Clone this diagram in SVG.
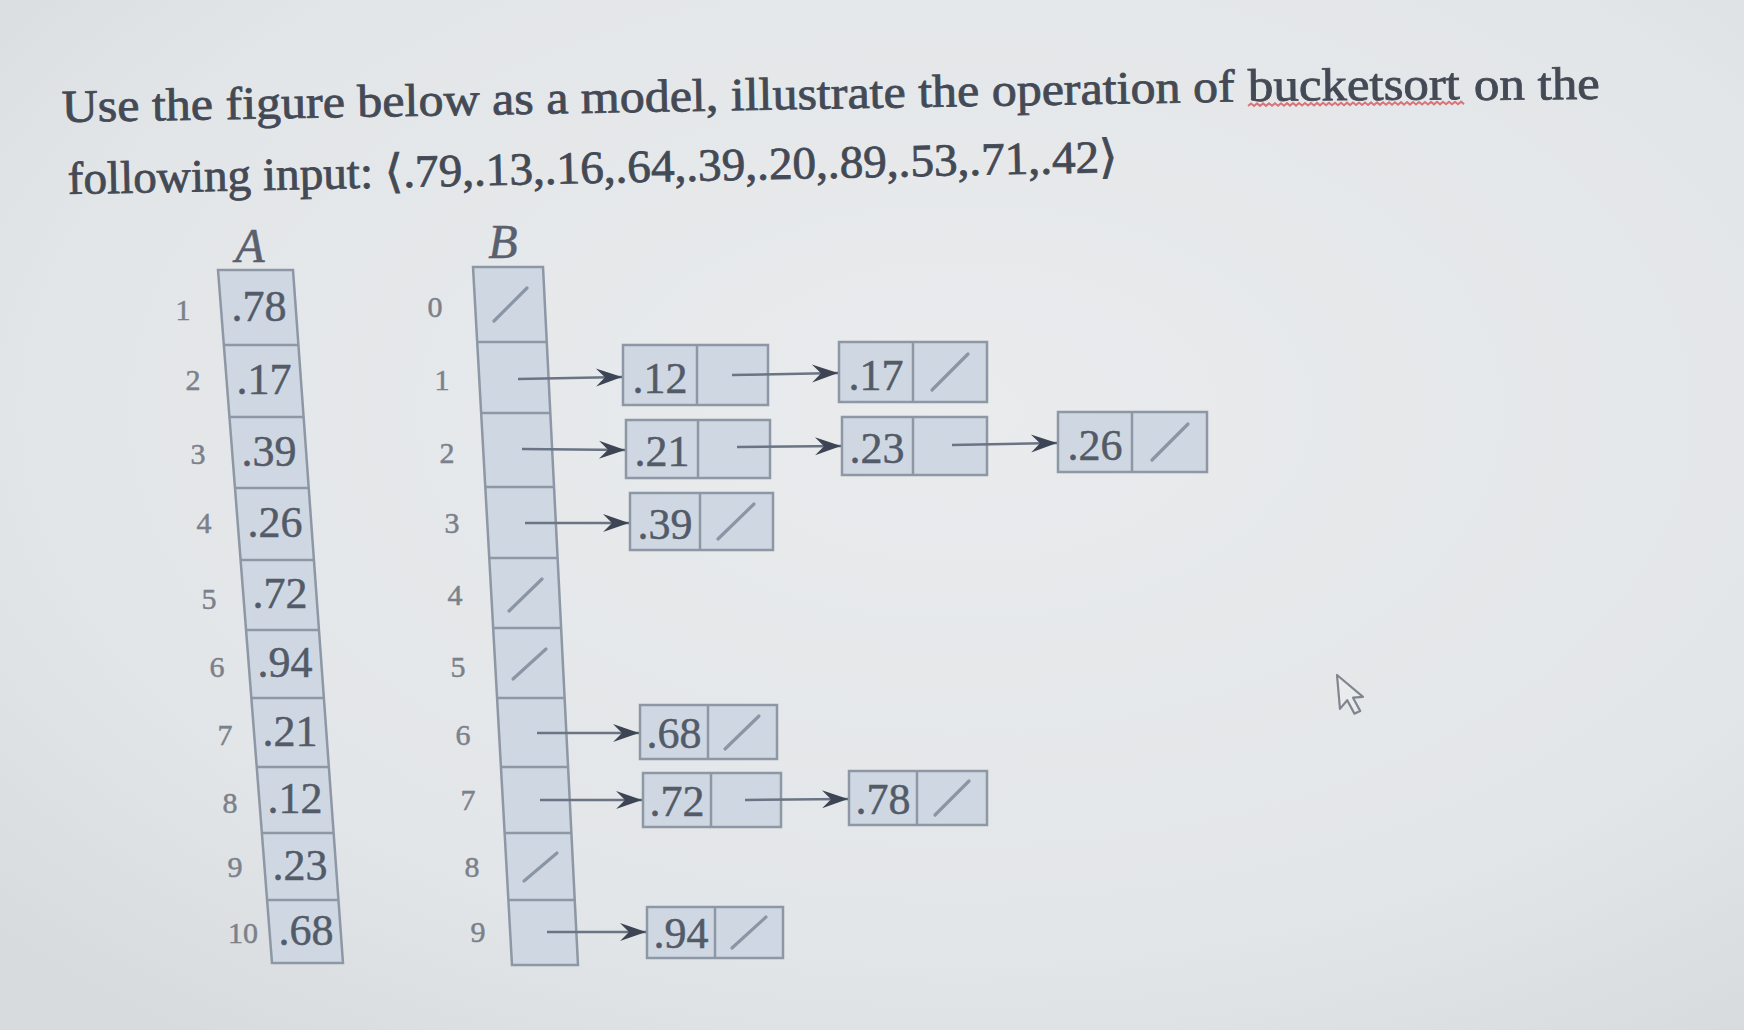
<svg xmlns="http://www.w3.org/2000/svg" width="1744" height="1030" viewBox="0 0 1744 1030">
<defs>
<radialGradient id="bg" cx="0.55" cy="0.4" r="0.75">
<stop offset="0" stop-color="#e9ebed"/>
<stop offset="0.7" stop-color="#e3e6e8"/>
<stop offset="1" stop-color="#d8dbde"/>
</radialGradient>
<marker id="ah" markerWidth="28" markerHeight="20" viewBox="-28 -10 28 20" refX="0" refY="0" orient="auto" markerUnits="userSpaceOnUse">
<path d="M0,0 L-26,-9 L-17,0 L-26,9 Z" fill="#3d4555"/>
</marker>
<style>
.t{font-family:"Liberation Serif","DejaVu Serif",serif;font-size:46px;fill:#444a55;stroke:#444a55;stroke-width:0.8}
.v{font-family:"Liberation Serif","DejaVu Serif",serif;font-size:44px;fill:#535b69;stroke:#535b69;stroke-width:0.5;text-anchor:middle}
.i{font-family:"Liberation Serif","DejaVu Serif",serif;font-size:30px;fill:#7b818b;stroke:#7b818b;stroke-width:0.5;text-anchor:middle}
.lab{font-family:"Liberation Serif","DejaVu Serif",serif;font-size:48px;font-style:italic;fill:#59606e;stroke:#59606e;stroke-width:0.5;text-anchor:middle}
.cell{fill:#cfd8e2;stroke:#8d97a5;stroke-width:2.5}
.sep{stroke:#8d97a5;stroke-width:2.5}
.nil{stroke:#8a95a6;stroke-width:3.2;stroke-linecap:round}
.ptr{stroke:#6a7484;stroke-width:2.5;fill:none;marker-end:url(#ah)}
.sq{stroke:#d9737a;stroke-width:2;fill:none}
</style>
</defs>
<rect width="1744" height="1030" fill="url(#bg)"/>

<g id="title">
<text class="t" x="62" y="122" textLength="1173" lengthAdjust="spacingAndGlyphs" transform="rotate(-1 62 122)">Use the figure below as a model, illustrate the operation of</text>
<g transform="rotate(-0.5 1248 101)">
<text class="t" x="1248" y="101" textLength="212" lengthAdjust="spacingAndGlyphs">bucketsort</text>
<path class="sq" d="M1248,106 l3,-2.5 3,2.5 3,-2.5 3,2.5 3,-2.5 3,2.5 3,-2.5 3,2.5 3,-2.5 3,2.5 3,-2.5 3,2.5 3,-2.5 3,2.5 3,-2.5 3,2.5 3,-2.5 3,2.5 3,-2.5 3,2.5 3,-2.5 3,2.5 3,-2.5 3,2.5 3,-2.5 3,2.5 3,-2.5 3,2.5 3,-2.5 3,2.5 3,-2.5 3,2.5 3,-2.5 3,2.5 3,-2.5 3,2.5 3,-2.5 3,2.5 3,-2.5 3,2.5 3,-2.5 3,2.5 3,-2.5 3,2.5 3,-2.5 3,2.5 3,-2.5 3,2.5 3,-2.5 3,2.5 3,-2.5 3,2.5 3,-2.5 3,2.5 3,-2.5 3,2.5 3,-2.5 3,2.5 3,-2.5 3,2.5 3,-2.5 3,2.5 3,-2.5 3,2.5 3,-2.5 3,2.5 3,-2.5 3,2.5 3,-2.5 3,2.5 3,-2.5 3,2.5"/>
</g>
<text class="t" x="1474" y="100" textLength="126" lengthAdjust="spacingAndGlyphs" transform="rotate(-0.5 1474 100)">on the</text>
<text class="t" x="68" y="194" textLength="1050" lengthAdjust="spacingAndGlyphs" transform="rotate(-1.2 68 194)">following input: ⟨.79,.13,.16,.64,.39,.20,.89,.53,.71,.42⟩</text>
</g>

<g id="arrayA">
<text class="lab" x="250" y="262">A</text>
<polygon class="cell" points="218,270 293,270 343,963 272,963"/>
<line class="sep" x1="223.8" y1="345" x2="298.4" y2="345"/>
<line class="sep" x1="229.5" y1="417" x2="303.6" y2="417"/>
<line class="sep" x1="235.0" y1="488" x2="308.7" y2="488"/>
<line class="sep" x1="240.6" y1="560" x2="313.9" y2="560"/>
<line class="sep" x1="246.0" y1="630" x2="319.0" y2="630"/>
<line class="sep" x1="251.3" y1="698" x2="323.9" y2="698"/>
<line class="sep" x1="256.7" y1="767" x2="328.9" y2="767"/>
<line class="sep" x1="261.9" y1="833" x2="333.6" y2="833"/>
<line class="sep" x1="267.1" y1="900" x2="338.5" y2="900"/>
<text class="v" x="259" y="321">.78</text>
<text class="v" x="264" y="394">.17</text>
<text class="v" x="269" y="466">.39</text>
<text class="v" x="275" y="537">.26</text>
<text class="v" x="280" y="608">.72</text>
<text class="v" x="285" y="677">.94</text>
<text class="v" x="290" y="746">.21</text>
<text class="v" x="295" y="813">.12</text>
<text class="v" x="300" y="880">.23</text>
<text class="v" x="306" y="945">.68</text>
<text class="i" x="183" y="320">1</text>
<text class="i" x="193" y="390">2</text>
<text class="i" x="198" y="464">3</text>
<text class="i" x="204" y="533">4</text>
<text class="i" x="209" y="609">5</text>
<text class="i" x="217" y="677">6</text>
<text class="i" x="225" y="745">7</text>
<text class="i" x="230" y="813">8</text>
<text class="i" x="235" y="877">9</text>
<text class="i" x="243" y="943">10</text>
</g>

<g id="arrayB">
<text class="lab" x="503" y="258">B</text>
<polygon class="cell" points="473,267 543,267 578,965 512,965"/>
<line class="sep" x1="477.2" y1="342" x2="546.8" y2="342"/>
<line class="sep" x1="481.2" y1="413" x2="550.3" y2="413"/>
<line class="sep" x1="485.3" y1="487" x2="554.0" y2="487"/>
<line class="sep" x1="489.3" y1="558" x2="557.6" y2="558"/>
<line class="sep" x1="493.2" y1="628" x2="561.1" y2="628"/>
<line class="sep" x1="497.1" y1="698" x2="564.6" y2="698"/>
<line class="sep" x1="501.0" y1="767" x2="568.1" y2="767"/>
<line class="sep" x1="504.6" y1="833" x2="571.4" y2="833"/>
<line class="sep" x1="508.4" y1="900" x2="574.7" y2="900"/>
<line class="nil" x1="494" y1="321" x2="527" y2="288"/>
<line class="nil" x1="509" y1="611" x2="542" y2="579"/>
<line class="nil" x1="513" y1="679" x2="546" y2="649"/>
<line class="nil" x1="524" y1="881" x2="557" y2="853"/>
<text class="i" x="435" y="317">0</text>
<text class="i" x="442" y="390">1</text>
<text class="i" x="447" y="463">2</text>
<text class="i" x="452" y="533">3</text>
<text class="i" x="455" y="605">4</text>
<text class="i" x="458" y="677">5</text>
<text class="i" x="463" y="745">6</text>
<text class="i" x="468" y="810">7</text>
<text class="i" x="472" y="877">8</text>
<text class="i" x="478" y="942">9</text>
</g>

<g id="n12"><rect class="cell" x="623" y="345" width="145" height="60"/><line class="sep" x1="697" y1="345" x2="697" y2="405"/><text class="v" x="660" y="393">.12</text></g>
<g id="n17"><rect class="cell" x="839" y="342" width="148" height="60"/><line class="sep" x1="913" y1="342" x2="913" y2="402"/><text class="v" x="876" y="390">.17</text><line class="nil" x1="932" y1="390" x2="968" y2="354"/></g>
<g id="n21"><rect class="cell" x="626" y="420" width="144" height="58"/><line class="sep" x1="698" y1="420" x2="698" y2="478"/><text class="v" x="662" y="466">.21</text></g>
<g id="n23"><rect class="cell" x="842" y="417" width="145" height="58"/><line class="sep" x1="913" y1="417" x2="913" y2="475"/><text class="v" x="877" y="463">.23</text></g>
<g id="n26"><rect class="cell" x="1058" y="412" width="149" height="60"/><line class="sep" x1="1132" y1="412" x2="1132" y2="472"/><text class="v" x="1095" y="460">.26</text><line class="nil" x1="1152" y1="460" x2="1188" y2="424"/></g>
<g id="n39"><rect class="cell" x="630" y="493" width="143" height="57"/><line class="sep" x1="700" y1="493" x2="700" y2="550"/><text class="v" x="665" y="539">.39</text><line class="nil" x1="718" y1="539" x2="754" y2="504"/></g>
<g id="n68"><rect class="cell" x="640" y="705" width="137" height="54"/><line class="sep" x1="708" y1="705" x2="708" y2="759"/><text class="v" x="674" y="748">.68</text><line class="nil" x1="725" y1="749" x2="759" y2="716"/></g>
<g id="n72"><rect class="cell" x="643" y="773" width="138" height="54"/><line class="sep" x1="711" y1="773" x2="711" y2="827"/><text class="v" x="677" y="816">.72</text></g>
<g id="n78"><rect class="cell" x="849" y="771" width="138" height="54"/><line class="sep" x1="917" y1="771" x2="917" y2="825"/><text class="v" x="883" y="814">.78</text><line class="nil" x1="935" y1="815" x2="969" y2="781"/></g>
<g id="n94"><rect class="cell" x="647" y="907" width="136" height="51"/><line class="sep" x1="715" y1="907" x2="715" y2="958"/><text class="v" x="681" y="948">.94</text><line class="nil" x1="732" y1="948" x2="766" y2="917"/></g>

<g id="connectors">
<line class="ptr" x1="518" y1="379" x2="622" y2="377"/>
<line class="ptr" x1="522" y1="449" x2="625" y2="450"/>
<line class="ptr" x1="525" y1="523" x2="629" y2="523"/>
<line class="ptr" x1="537" y1="733" x2="639" y2="733"/>
<line class="ptr" x1="540" y1="800" x2="642" y2="800"/>
<line class="ptr" x1="547" y1="932" x2="646" y2="932"/>
<line class="ptr" x1="732" y1="375" x2="838" y2="373"/>
<line class="ptr" x1="737" y1="447" x2="841" y2="446"/>
<line class="ptr" x1="952" y1="445" x2="1057" y2="443"/>
<line class="ptr" x1="745" y1="800" x2="848" y2="799"/>
</g>

<g id="cursor" transform="translate(1337,675) rotate(-5) scale(2)">
<path d="M0,0 L0,17 L4,13 L7,20 L10,19 L7,12 L12,12 Z" fill="#e9ebed" stroke="#80868f" stroke-width="1.1" stroke-linejoin="round"/>
</g>
</svg>
